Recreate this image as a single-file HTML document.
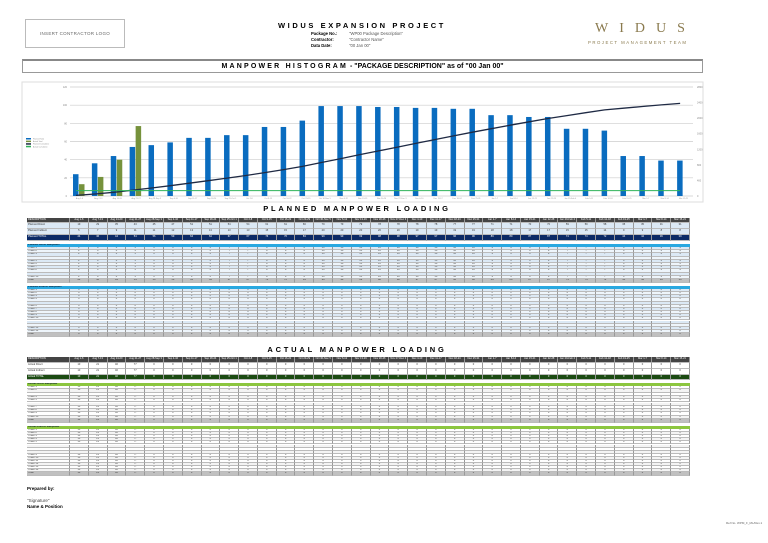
<!DOCTYPE html>
<html><head><meta charset="utf-8">
<style>
body{margin:0;width:768px;height:543px;background:#fff;position:relative;overflow:hidden;font-family:"Liberation Sans",sans-serif;}
.a{position:absolute;}
.c{position:absolute;box-sizing:border-box;font-size:2.6px;line-height:1;text-align:center;overflow:hidden;white-space:nowrap;display:flex;align-items:center;justify-content:center;}
.l{justify-content:flex-start;padding-left:1px;}
</style></head><body>
<div class="a" style="left:25px;top:19px;width:100px;height:29px;border:1px solid #bbb;box-sizing:border-box;font-size:4.5px;color:#666;display:flex;align-items:center;justify-content:center;letter-spacing:.3px;">INSERT CONTRACTOR LOGO</div>
<div class="a" style="left:262px;top:21px;width:200px;text-align:center;font-size:7.5px;font-weight:bold;letter-spacing:2.6px;">WIDUS EXPANSION PROJECT</div>
<div class="a" style="left:311px;top:31px;font-size:4.2px;font-weight:bold;line-height:6px;">Package No.:<br>Contractor:<br>Data Date:</div>
<div class="a" style="left:349px;top:31px;font-size:4.2px;color:#555;line-height:6px;">"WP00 Package Description"<br>"Contractor Name"<br>"00 Jan 00"</div>
<div class="a" style="left:595px;top:21px;font-size:14px;color:#8a7a4e;letter-spacing:11px;font-family:'Liberation Serif',serif;">WIDUS</div>
<div class="a" style="left:588px;top:40px;font-size:4.3px;color:#8a7a4e;letter-spacing:1.5px;">PROJECT MANAGEMENT TEAM</div>
<div class="a" style="left:22px;top:59px;width:681px;height:14px;border:1px solid #999;border-top:2px solid #888;box-sizing:border-box;text-align:center;font-size:7px;font-weight:bold;line-height:11px;"><span style="letter-spacing:2.2px">MANPOWER HISTOGRAM</span> - "PACKAGE DESCRIPTION" as of "00 Jan 00"</div>
<svg class="a" style="left:0;top:0" width="768" height="210" id="chart"></svg>
<div id="tables"></div>
<div class="a" style="left:27px;top:486px;font-size:4.5px;font-weight:bold;">Prepared by:</div>
<div class="a" style="left:27px;top:498px;font-size:4.5px;color:#444;">"Signature"</div>
<div class="a" style="left:27px;top:504px;font-size:4.5px;font-weight:bold;">Name &amp; Position</div>
<div class="a" style="left:726px;top:521px;font-size:3px;color:#666;">Ref No. WPM_F_ML/Rev.1</div>
<script>
const categories=["Aug 1-6","Aug 7-13","Aug 14-20","Aug 21-27","Aug 28-Sep 3","Sep 4-10","Sep 11-17","Sep 18-24","Sep 25-Oct 1","Oct 2-8","Oct 9-15","Oct 16-22","Oct 23-29","Oct 30-Nov 5","Nov 6-12","Nov 13-19","Nov 20-26","Nov 27-Dec 3","Dec 4-10","Dec 11-17","Dec 18-24","Dec 25-31","Jan 1-7","Jan 8-14","Jan 15-21","Jan 22-28","Jan 29-Feb 4","Feb 5-11","Feb 12-18","Feb 19-25","Mar 1-7","Mar 8-14","Mar 15-21"];
const plannedValues=[24,36,44,54,56,59,64,64,67,67,76,76,83,99,99,99,98,98,97,97,96,96,89,89,87,87,74,74,72,44,44,39,39];
const actualValues=[13,21,40,77];
const actualCumFlat=[6,6,6,6,6,6,6,6,6,6,6,6,6,6,6,6,6,6,6,6,6,6,6,6,6,6,6,6,6,6,6,6,6];
const leftTicks=[0,20,40,60,80,100,120];
const rightTicks=[0,400,800,1200,1600,2000,2400,2800];
const svg=document.getElementById('chart');
const NS='http://www.w3.org/2000/svg';
function mk(t,at,name){const e=document.createElementNS(NS,t);for(const k in at)e.setAttribute(k,at[k]);


svg.appendChild(e);return e;}
const X0=70,X1=693,Y0=196,Y1=87,band=(X1-X0)/categories.length;
const y=v=>Y0-(v/120)*(Y0-Y1);
const yr=v=>Y0-(v/2800)*(Y0-Y1);
const xc=i=>X0+band*i;
mk('rect',{x:22,y:82,width:681,height:120,fill:'#fff',stroke:'#ddd'},'chart-frame');
leftTicks.forEach(t=>{mk('line',{x1:X0,x2:X1,y1:y(t),y2:y(t),stroke:'#ccc','stroke-width':0.7},'gridline');
const tx=mk('text',{x:X0-3,y:y(t)+1,'font-size':2.5,fill:'#888','text-anchor':'end'},'y-tick-left');tx.textContent=t;});
rightTicks.forEach(t=>{const tx=mk('text',{x:X1+4,y:yr(t)+1,'font-size':2.5,fill:'#888'},'y-tick-right');tx.textContent=t;});
plannedValues.forEach((v,i)=>mk('rect',{x:xc(i)+3,y:y(v),width:5.5,height:Y0-y(v),fill:'#0a6cbf'},'bar-planned'));
actualValues.forEach((v,i)=>mk('rect',{x:xc(i)+9,y:y(v),width:5.5,height:Y0-y(v),fill:'#76923c'},'bar-actual'));
categories.forEach((c,i)=>{const t=mk('text',{x:xc(i)+band/2,y:199,'font-size':2,fill:'#999','text-anchor':'middle'},'x-tick');t.textContent=c;});
let cum=0,pts=[];plannedValues.forEach((v,i)=>{cum+=v;pts.push((xc(i)+6)+','+yr(cum-plannedValues[0]+15).toFixed(1));});
mk('polyline',{points:pts.join(' '),fill:'none',stroke:'#1f2a44','stroke-width':1.3},'line-planned-cumulative');
mk('polyline',{points:actualCumFlat.map((v,i)=>(xc(i)+6)+','+y(v).toFixed(1)).join(' '),fill:'none',stroke:'#2fb35a','stroke-width':1},'line-actual-cumulative');
[['#0a6cbf','Planned Total'],['#76923c','Actual Total'],['#1f2a44','Planned Cumulative'],['#2fb35a','Actual Cumulative']].forEach((l,i)=>{
mk('rect',{x:26,y:138+i*2.6,width:5,height:1.5,fill:l[0]},'legend-swatch');
const t=mk('text',{x:33,y:139.5+i*2.6,'font-size':1.8,fill:'#888'},'legend-entry');t.textContent=l[1];});

const T=document.getElementById('tables');
const TL=27,TR=690,LW=43,CW=(TR-TL-LW)/33;
function cell(x,yy,w,h,bg,txt,col,name,cls,bd){const d=document.createElement('div');d.className='c '+(cls||'');
d.style.cssText=`left:${x}px;top:${yy}px;width:${w}px;height:${h}px;background:${bg};color:${col||'#333'};border-right:0.5px solid ${bd||'#999'};border-bottom:0.5px solid ${bd||'#bbb'};`;
d.textContent=txt;


T.appendChild(d);}
function title(txt,top,name){const d=document.createElement('div');d.className='a';d.style.cssText=`left:200px;width:314px;top:${top}px;text-align:center;font-size:7.5px;font-weight:bold;letter-spacing:2.8px;`;d.textContent=txt;


T.appendChild(d);}
function row(top,h,bg,label,vals,col,name,hb){cell(TL,top,LW,h,hb||bg,label,col,name+'-label','l');
for(let i=0;i<33;i++)cell(TL+LW+i*CW,top,CW,h,bg,vals?vals[i]:'',col,name+'-cell');}
function band2(top,h,bg,label,name){const d=document.createElement('div');d.className='c l';d.style.cssText=`left:${TL}px;top:${top}px;width:${TR-TL}px;height:${h}px;background:${bg};color:#123;font-weight:bold;`;d.textContent=label;


T.appendChild(d);}
const z=Array(33).fill('0');
function section(top,n,h,bg1,bg2,vals,name){for(let r=0;r<n;r++)row(top+r*h,h,r%2?bg2:bg1,'Trade '+(r+1),vals,'#444',name);}
// planned
title('PLANNED MANPOWER LOADING',204,'planned-title');
row(218,5,'#444','DESCRIPTION',categories,'#fff','planned-header');
row(223,6,'#dce9f5','Planned Direct',plannedValues.map(v=>Math.round(v*0.8)),'#333','planned-direct');
row(229,6,'#dce9f5','Planned Indirect',plannedValues.map(v=>Math.round(v*0.2)),'#333','planned-indirect');
row(235,6,'#0b2a66','Planned TOTAL',plannedValues,'#fff','planned-total');
band2(244,3,'#2aa8e0','Planned Direct Manpower','planned-direct-section');
section(247,10,3.2,'#dce9f5','#eef5fb',plannedValues.map(v=>Math.round(v/10)),'planned-direct-row');
row(279,4,'#c0c0c0','Total',plannedValues,'#333','planned-direct-sum');
band2(286,3,'#2aa8e0','Planned Indirect Manpower','planned-indirect-section');
section(289,14,3.15,'#dce9f5','#eef5fb',z,'planned-indirect-row');
row(333,4,'#c0c0c0','Total',z,'#333','planned-indirect-sum');
// actual
title('ACTUAL MANPOWER LOADING',345,'actual-title');
const av=categories.map((c,i)=>actualValues[i]!==undefined?actualValues[i]:'0');
row(357,6,'#444','DESCRIPTION',categories,'#fff','actual-header');
row(363,6,'#fff','Actual Direct',av,'#333','actual-direct');
row(369,6,'#fff','Actual Indirect',av,'#333','actual-indirect');
row(375,5,'#1b4a12','Actual TOTAL',av,'#fff','actual-total');
band2(383,3,'#8cc63f','Actual Direct Manpower','actual-direct-section');
section(386,10,3.3,'#fff','#f4f4f4',av,'actual-direct-row');
row(419,4,'#c0c0c0','Total',av,'#333','actual-direct-sum');
band2(426,3,'#8cc63f','Actual Indirect Manpower','actual-indirect-section');
section(429,14,3.1,'#fff','#f4f4f4',av,'actual-indirect-row');
row(472,4,'#c0c0c0','Total',av,'#333','actual-indirect-sum');
</script>
</body></html>
